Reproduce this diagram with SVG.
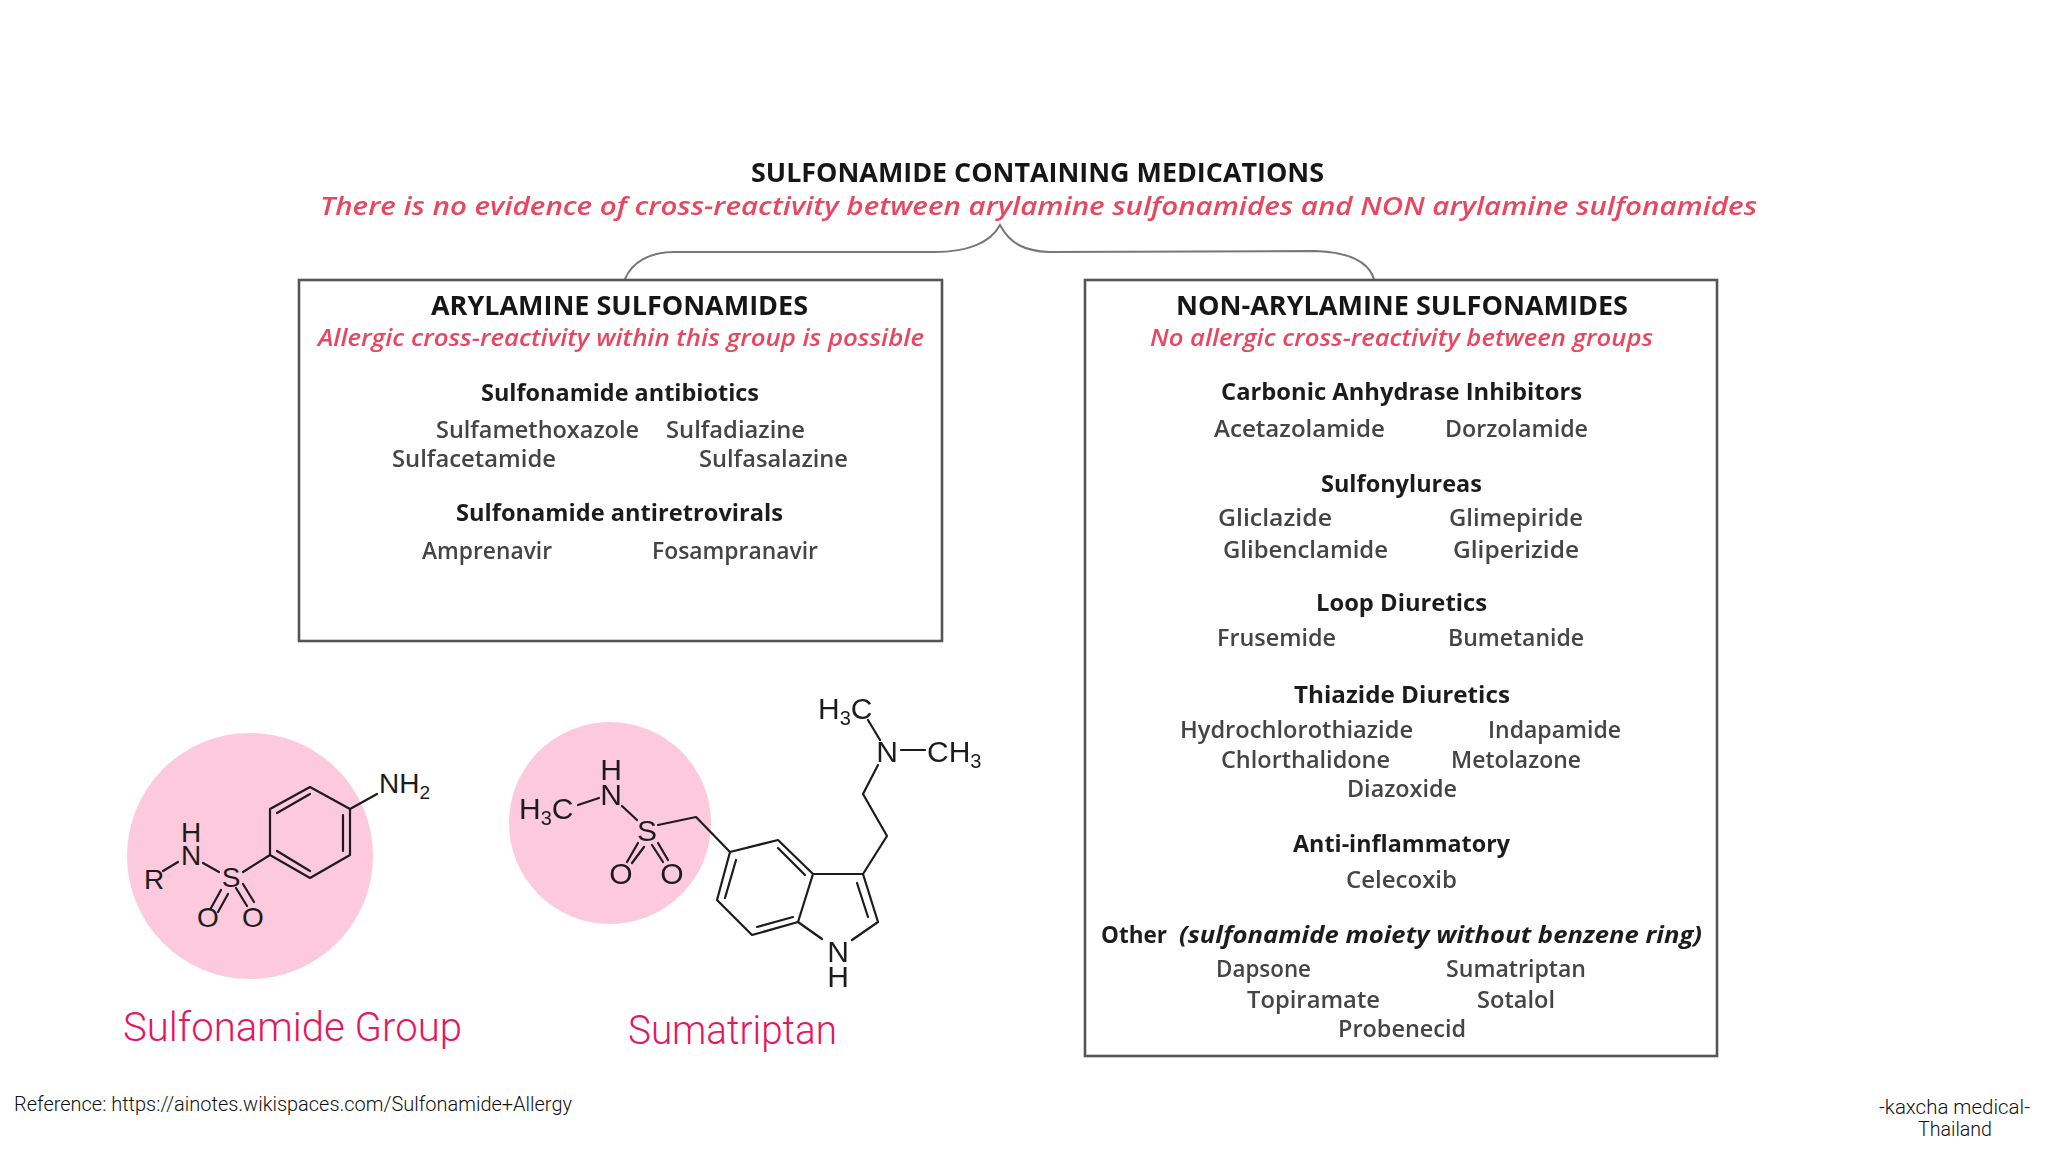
<svg xmlns="http://www.w3.org/2000/svg" width="2048" height="1152" viewBox="0 0 2048 1152">
<defs><filter id="soft" x="-5%" y="-30%" width="110%" height="160%"><feGaussianBlur stdDeviation="0.6"/></filter></defs>
<style>
text{font-family:"Open Sans","Noto Sans","DejaVu Sans",sans-serif}
.scan{filter:url(#soft)}
.head{font-size:26px;font-weight:700;fill:#161616}
.note{font-size:25px;font-style:italic;font-weight:600;fill:#e8475f}
.note2{font-size:23px;font-style:italic;font-weight:600;fill:#e8475f}
.sec{font-size:23px;font-weight:700;fill:#1e1e1e}
.drug{font-size:23px;font-weight:600;fill:#444}
.box{fill:#fff;stroke:#555;stroke-width:2.6}
.bond{fill:none;stroke:#1c1c1c;stroke-width:2.2;stroke-linecap:round;stroke-linejoin:round}
.a{font-family:"Liberation Sans",Arial,sans-serif;font-size:28px;fill:#1c1c1c}
.b{font-size:30px}
.m{text-anchor:middle}
.lab{font-family:Roboto,"Liberation Sans",Arial,sans-serif;font-weight:300;font-size:41px;fill:#e5175f}
.foot{font-family:Roboto,"Liberation Sans",Arial,sans-serif;font-weight:300;font-size:21px;fill:#111}
.pink{fill:#fdc9dc}
.br{fill:none;stroke:#777;stroke-width:2}
</style>
<rect width="2048" height="1152" fill="#fff"/>

<g id="connectors">
<path class="br scan" d="M625 279C632 262 650 252 674 252L935 252C965 252 990 244 1000 225C1010 244 1025 251 1049 252L1315 251C1345 252 1368 260 1374 279"/>
</g>

<g id="title" class="scan">
<text class="head" x="751" y="182" textLength="573" lengthAdjust="spacingAndGlyphs">SULFONAMIDE CONTAINING MEDICATIONS</text>
<text class="note" x="320" y="215" textLength="1437" lengthAdjust="spacingAndGlyphs">There is no evidence of cross-reactivity between arylamine sulfonamides and NON arylamine sulfonamides</text>
</g>

<g id="arylamine-box">
<rect class="box" x="299" y="280" width="643" height="361"/>
<g class="scan" transform="translate(-1 0)">
<text class="head" x="432" y="315" textLength="377" lengthAdjust="spacingAndGlyphs">ARYLAMINE SULFONAMIDES</text>
<text class="note2" x="319" y="346" textLength="606" lengthAdjust="spacingAndGlyphs">Allergic cross-reactivity within this group is possible</text>
<text class="sec" x="482" y="401" textLength="278" lengthAdjust="spacingAndGlyphs">Sulfonamide antibiotics</text>
<text class="drug" x="437" y="438" textLength="203" lengthAdjust="spacingAndGlyphs">Sulfamethoxazole</text>
<text class="drug" x="667" y="438" textLength="139" lengthAdjust="spacingAndGlyphs">Sulfadiazine</text>
<text class="drug" x="393" y="467" textLength="164" lengthAdjust="spacingAndGlyphs">Sulfacetamide</text>
<text class="drug" x="700" y="467" textLength="149" lengthAdjust="spacingAndGlyphs">Sulfasalazine</text>
<text class="sec" x="457" y="521" textLength="327" lengthAdjust="spacingAndGlyphs">Sulfonamide antiretrovirals</text>
<text class="drug" x="423" y="559" textLength="130" lengthAdjust="spacingAndGlyphs">Amprenavir</text>
<text class="drug" x="653" y="559" textLength="166" lengthAdjust="spacingAndGlyphs">Fosampranavir</text>
</g>
</g>

<g id="non-arylamine-box">
<rect class="box" x="1085" y="280" width="632" height="776"/>
<g class="scan" transform="translate(-2 0)">
<text class="head" x="1178" y="315" textLength="452" lengthAdjust="spacingAndGlyphs">NON-ARYLAMINE SULFONAMIDES</text>
<text class="note2" x="1152" y="346" textLength="503" lengthAdjust="spacingAndGlyphs">No allergic cross-reactivity between groups</text>
<text class="sec" x="1223" y="400" textLength="361" lengthAdjust="spacingAndGlyphs">Carbonic Anhydrase Inhibitors</text>
<text class="drug" x="1216" y="437" textLength="171" lengthAdjust="spacingAndGlyphs">Acetazolamide</text>
<text class="drug" x="1447" y="437" textLength="143" lengthAdjust="spacingAndGlyphs">Dorzolamide</text>
<text class="sec" x="1323" y="492" textLength="161" lengthAdjust="spacingAndGlyphs">Sulfonylureas</text>
<text class="drug" x="1220" y="526" textLength="114" lengthAdjust="spacingAndGlyphs">Gliclazide</text>
<text class="drug" x="1451" y="526" textLength="134" lengthAdjust="spacingAndGlyphs">Glimepiride</text>
<text class="drug" x="1225" y="558" textLength="165" lengthAdjust="spacingAndGlyphs">Glibenclamide</text>
<text class="drug" x="1455" y="558" textLength="126" lengthAdjust="spacingAndGlyphs">Gliperizide</text>
<text class="sec" x="1318" y="611" textLength="171" lengthAdjust="spacingAndGlyphs">Loop Diuretics</text>
<text class="drug" x="1219" y="646" textLength="119" lengthAdjust="spacingAndGlyphs">Frusemide</text>
<text class="drug" x="1450" y="646" textLength="136" lengthAdjust="spacingAndGlyphs">Bumetanide</text>
<text class="sec" x="1296" y="703" textLength="216" lengthAdjust="spacingAndGlyphs">Thiazide Diuretics</text>
<text class="drug" x="1182" y="738" textLength="233" lengthAdjust="spacingAndGlyphs">Hydrochlorothiazide</text>
<text class="drug" x="1490" y="738" textLength="133" lengthAdjust="spacingAndGlyphs">Indapamide</text>
<text class="drug" x="1223" y="768" textLength="169" lengthAdjust="spacingAndGlyphs">Chlorthalidone</text>
<text class="drug" x="1453" y="768" textLength="130" lengthAdjust="spacingAndGlyphs">Metolazone</text>
<text class="drug" x="1349" y="797" textLength="110" lengthAdjust="spacingAndGlyphs">Diazoxide</text>
<text class="sec" x="1295" y="852" textLength="217" lengthAdjust="spacingAndGlyphs">Anti-inflammatory</text>
<text class="drug" x="1348" y="888" textLength="111" lengthAdjust="spacingAndGlyphs">Celecoxib</text>
<text class="sec" x="1103" y="943" textLength="66" lengthAdjust="spacingAndGlyphs">Other</text>
<text class="sec" x="1181" y="943" font-style="italic" textLength="523" lengthAdjust="spacingAndGlyphs">(sulfonamide moiety without benzene ring)</text>
<text class="drug" x="1218" y="977" textLength="95" lengthAdjust="spacingAndGlyphs">Dapsone</text>
<text class="drug" x="1448" y="977" textLength="140" lengthAdjust="spacingAndGlyphs">Sumatriptan</text>
<text class="drug" x="1249" y="1008" textLength="133" lengthAdjust="spacingAndGlyphs">Topiramate</text>
<text class="drug" x="1479" y="1008" textLength="78" lengthAdjust="spacingAndGlyphs">Sotalol</text>
<text class="drug" x="1340" y="1037" textLength="128" lengthAdjust="spacingAndGlyphs">Probenecid</text>
</g>
</g>

<g id="sulfonamide-group">
<circle class="pink" cx="250" cy="856" r="123"/>
<path class="bond" d="M310 787L350 809V855L310 878L270 855V809Z"/>
<path class="bond" d="M277 813L310 794M343 815V851M277 851L310 871"/>
<path class="bond" d="M350 809L377 794M243 872L270 855M203 863L219 872M163 871L178 862M221 890L211 908M228 894L218 912M236 888L247 906M243 884L254 902"/>
<text class="a" x="379" y="793">NH<tspan font-size="19" dy="6">2</tspan></text>
<text class="a m"><tspan x="191" y="842">H</tspan><tspan x="191" y="865">N</tspan></text>
<text class="a" x="144" y="889">R</text>
<text class="a m" x="231" y="887">S</text>
<text class="a m" x="208" y="927">O</text>
<text class="a m" x="253" y="927">O</text>
<text class="lab" x="123" y="1041" textLength="339" lengthAdjust="spacingAndGlyphs">Sulfonamide Group</text>
</g>

<g id="sumatriptan">
<circle class="pink" cx="610" cy="823" r="101"/>
<g class="scan">
<path class="bond" d="M658 825L696 817L730 852L778 840L813 874L798 922L752 935L717 900L730 852"/>
<path class="bond" d="M736 860L725 898M778 848L805 875M793 917L757 927"/>
<path class="bond" d="M813 874H863L878 922L852 940M798 922L822 939M857 883L868 917"/>
<path class="bond" d="M863 874L887 836L863 794L878 765M868 720L880 740M901 750H925"/>
<path class="bond" d="M578 805L599 798M622 806L637 820M638 843L627 862M644 847L632 863M652 845L663 862M658 843L668 860"/>
<text class="a b" x="818" y="719">H<tspan font-size="20" dy="6">3</tspan><tspan dy="-6">C</tspan></text>
<text class="a b m" x="887" y="762">N</text>
<text class="a b" x="927" y="762">CH<tspan font-size="20" dy="6">3</tspan></text>
<text class="a b m"><tspan x="838" y="962">N</tspan><tspan x="838" y="987">H</tspan></text>
<text class="a b" x="519" y="819">H<tspan font-size="20" dy="6">3</tspan><tspan dy="-6">C</tspan></text>
<text class="a b m"><tspan x="611" y="780">H</tspan><tspan x="611" y="805">N</tspan></text>
<text class="a b m" x="647" y="841">S</text>
<text class="a b m" x="621" y="884">O</text>
<text class="a b m" x="672" y="884">O</text>
</g>
<text class="lab" x="628" y="1044" textLength="209" lengthAdjust="spacingAndGlyphs">Sumatriptan</text>
</g>

<g id="footer">
<text class="foot" x="14" y="1111" textLength="558" lengthAdjust="spacingAndGlyphs">Reference: https://ainotes.wikispaces.com/Sulfonamide+Allergy</text>
<text class="foot" x="1879" y="1114" textLength="151" lengthAdjust="spacingAndGlyphs">-kaxcha medical-</text>
<text class="foot" x="1918" y="1136" textLength="74" lengthAdjust="spacingAndGlyphs">Thailand</text>
</g>
</svg>
